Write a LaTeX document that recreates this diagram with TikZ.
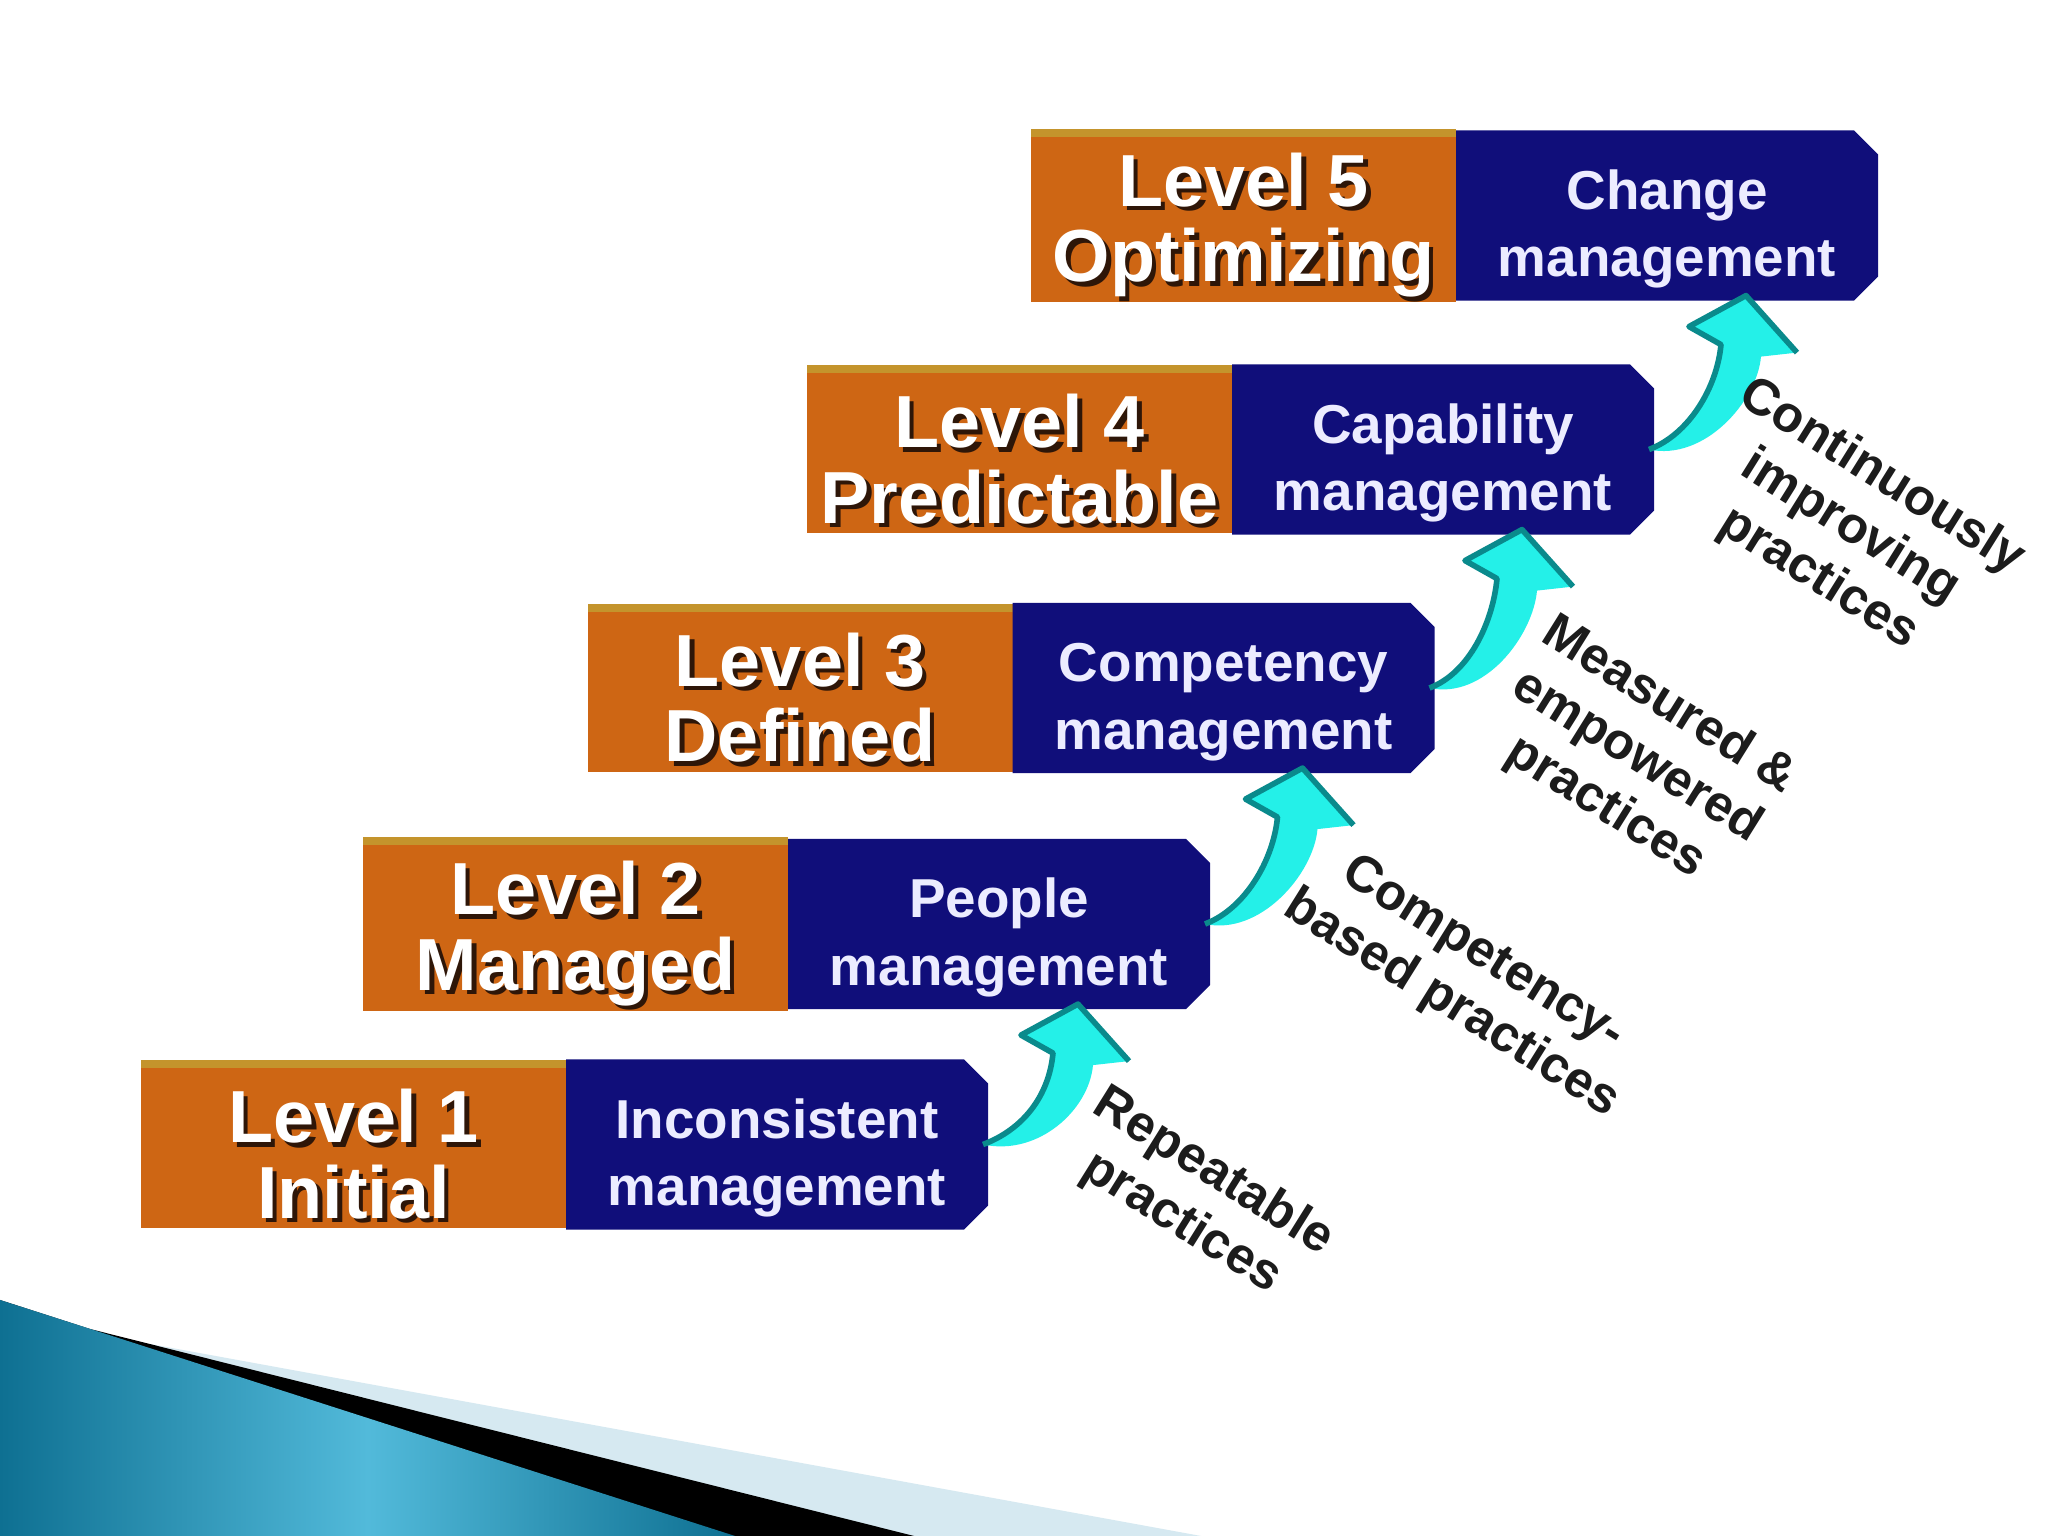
\documentclass[tikz,border=0pt]{standalone}
\usepackage{fontspec}
\setmainfont{Liberation Sans}
\usetikzlibrary{positioning,shapes.misc,calc}
\definecolor{lvlorange}{RGB}{206,102,20}
\definecolor{lvlgold}{RGB}{196,148,44}
\definecolor{mgtblue}{RGB}{16,14,122}
\definecolor{mgttext}{RGB}{236,236,255}
\definecolor{arrowcyan}{RGB}{36,240,232}
\definecolor{arrowteal}{RGB}{10,138,140}
\definecolor{labelgray}{RGB}{28,28,28}
\definecolor{swdark}{RGB}{14,112,146}
\definecolor{swlight}{RGB}{82,186,218}
\definecolor{swpale}{RGB}{214,233,241}
\definecolor{shadowbrown}{RGB}{46,22,8}
% white text with a dark drop shadow
\newcommand\shtxt[1]{\makebox[0pt][l]{\kern1.3pt\raisebox{-1.3pt}{\color{shadowbrown}#1}}#1}
% two lines of a level box, set a little low
\newcommand\lvltxt[2]{\rule{0pt}{22pt}\shtxt{#1}\\\shtxt{#2}}
\newcommand\mgttxt[2]{\rule{0pt}{19pt}#1\\#2}
% curved step arrow from one management box up to the next
\newcommand\stairarrow[2]{%
	\coordinate (t) at ($(#1.east)+(-0.05,0)$);
	\coordinate (h) at ($(#2.south east)+(-1.2,-0.07)$);
	\fill[arrowcyan] (t) .. controls +(0.40,0.15) and +(-0.04,-0.43) .. ($(h)+(-0.25,-0.49)$)
		-- ($(h)+(-0.57,-0.31)$) -- (h) -- ($(h)+(0.51,-0.57)$) -- ($(h)+(0.15,-0.61)$)
		.. controls +(-0.04,-0.45) and +(0.55,-0.12) .. (t) -- cycle;
	\draw[arrowteal, line width=1.6pt, line join=round] (t) .. controls +(0.40,0.15) and +(-0.04,-0.43) .. ($(h)+(-0.25,-0.49)$)
		-- ($(h)+(-0.57,-0.31)$) -- (h) -- ($(h)+(0.51,-0.57)$);
}
\begin{document}
\begin{tikzpicture}[
		lvlbox/.style={rectangle, fill=lvlorange, minimum width=4.25cm, minimum height=1.68cm,
			inner sep=0pt, outer sep=0pt, text=white, align=center,
			font=\fontsize{21}{21.5}\selectfont\bfseries,
			path picture={\fill[lvlgold] (path picture bounding box.north west) rectangle ([yshift=-0.08cm]path picture bounding box.north east);}},
		mgtbox/.style={chamfered rectangle, chamfered rectangle corners={north east,south east},
			chamfered rectangle xsep=0.12cm, chamfered rectangle ysep=0.12cm,
			fill=mgtblue, minimum width=4.22cm, minimum height=1.68cm,
			inner sep=0pt, outer sep=0pt, text=mgttext, align=center,
			font=\fontsize{15.6}{19.3}\selectfont\bfseries},
		practice/.style={text=labelgray, align=center, rotate=-32,
			font=\fontsize{14.5}{17}\selectfont\bfseries}]
	\useasboundingbox (0,0) rectangle (20.48,15.36);
	\fill[white] (0,0) rectangle (20.48,15.36);

	% corner swoosh
	\fill[swpale] (1.5,1.92) -- (12.01,0) -- (0,0) -- cycle;
	\fill[black] (0,2.36) -- (0.9,2.07) -- (9.14,0) -- (0,0) -- cycle;
	\shade[left color=swdark, right color=swdark, middle color=swlight]
		(0,2.36) -- (7.35,0) -- (0,0) -- cycle;

	% levels
	\node[lvlbox] (lvl1) at (3.535,3.915) {\lvltxt{Level 1}{Initial}};
	\node[mgtbox, right=0pt of lvl1] (mgt1) {\mgttxt{Inconsistent}{management}};
	\node[lvlbox] (lvl2) at (5.755,6.12) {\lvltxt{Level 2}{Managed}};
	\node[mgtbox, right=0pt of lvl2] (mgt2) {\mgttxt{People}{management}};
	\node[lvlbox] (lvl3) at (8.0,8.48) {\lvltxt{Level 3}{Defined}};
	\node[mgtbox, right=0pt of lvl3] (mgt3) {\mgttxt{Competency}{management}};
	\node[lvlbox] (lvl4) at (10.195,10.865) {\lvltxt{Level 4}{Predictable}};
	\node[mgtbox, right=0pt of lvl4] (mgt4) {\mgttxt{Capability}{management}};
	\node[lvlbox] (lvl5) at (12.435,13.205) {\lvltxt{Level 5}{Optimizing}};
	\node[mgtbox, right=0pt of lvl5] (mgt5) {\mgttxt{Change}{management}};

	% steps
	\stairarrow{mgt1}{mgt2}
	\stairarrow{mgt2}{mgt3}
	\stairarrow{mgt3}{mgt4}
	\stairarrow{mgt4}{mgt5}

	\node[practice] (rep) at (11.97,3.38) {Repeatable\\practices};
	\node[practice] (comp) at (14.67,5.56) {Competency-\\based practices};
	\node[practice] (meas) at (16.37,7.79) {Measured \&\\empowered\\practices};
	\node[practice] (cont) at (18.50,10.08) {Continuously\\improving\\practices};
\end{tikzpicture}
\end{document}
